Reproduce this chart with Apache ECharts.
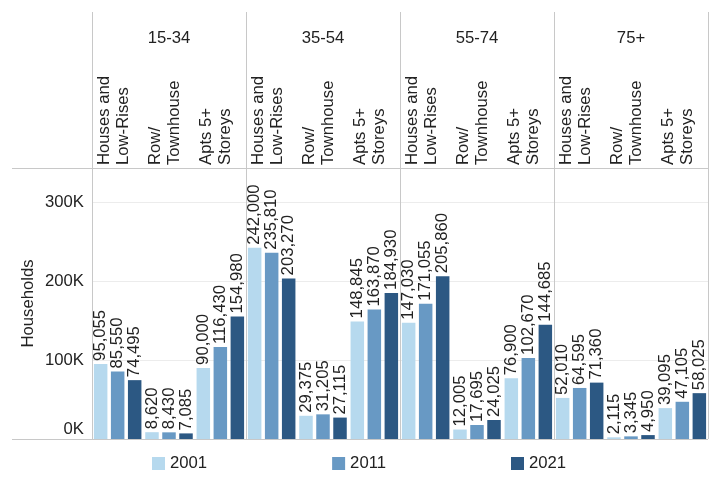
<!DOCTYPE html>
<html>
<head>
<meta charset="utf-8">
<script src="https://cdn.jsdelivr.net/npm/echarts@6/dist/echarts.min.js"></script>
<style>
html,body{margin:0;padding:0;background:#fff;}
#chart{width:720px;height:480px;}
</style>
</head>
<body>
<div id="chart"></div>
<script>
const ageGroups = ['15-34', '35-54', '55-74', '75+'];
const housingTypes = ['Houses and\nLow-Rises', 'Row/\nTownhouse', 'Apts 5+\nStoreys'];
const years = ['2001', '2011', '2021'];
// order: for each age group -> Houses, Row, Apts
const values2001 = [95055, 8620, 90000, 242000, 29375, 148845, 147030, 12005, 76900, 52010, 2115, 39095];
const values2011 = [85550, 8430, 116430, 235810, 31205, 163870, 171055, 17695, 102670, 64595, 3345, 47105];
const values2021 = [74495, 7085, 154980, 203270, 27115, 184930, 205860, 24025, 144685, 71360, 4950, 58025];
const yTicks = [0, 100000, 200000, 300000];

const colors = ['#b6d9ee', '#6899c4', '#2c5883'];
const subCategories = [];
ageGroups.forEach(() => housingTypes.forEach(t => subCategories.push(t)));
const seriesValues = [values2001, values2011, values2021];

const chart = echarts.init(document.getElementById('chart'), null, {renderer: 'canvas'});
const font = '"Liberation Sans", Arial, sans-serif';
const fs = 16.7;
const lineColor = '#c8c8c8';

chart.setOption({
  backgroundColor: '#ffffff',
  animation: false,
  textStyle: {fontFamily: font},
  grid: {left: 92, right: 12, top: 168, bottom: 41, containLabel: false},
  legend: {
    data: years,
    left: 147,
    top: 450,
    itemWidth: 13,
    itemHeight: 13,
    itemGap: 125,
    icon: 'rect',
    textStyle: {fontSize: fs, color: '#222', fontFamily: font}
  },
  xAxis: [
    {
      type: 'category',
      position: 'top',
      data: subCategories,
      axisLine: {show: false},
      axisTick: {show: false},
      splitLine: {show: false},
      axisLabel: {
        interval: 0,
        rotate: 90,
        margin: 3,
        fontSize: fs,
        lineHeight: 19,
        color: '#222',
        fontFamily: font,
        formatter: v => v.split('\n').map(s => '{t|' + s + '}').join('\n') + '\n{s| }',
        rich: {
          t: {fontSize: fs, lineHeight: 19, color: '#222', fontFamily: font},
          s: {fontSize: 1, lineHeight: 8}
        }
      }
    },
    {
      type: 'category',
      position: 'top',
      data: ageGroups,
      axisLine: {show: true, lineStyle: {color: lineColor, width: 1}},
      axisTick: {show: true, interval: 0, length: 156, inside: false, lineStyle: {color: lineColor, width: 1}},
      splitLine: {show: true, interval: 0, lineStyle: {color: lineColor, width: 1}},
      axisLabel: {interval: 0, margin: 121, fontSize: fs, color: '#222', fontFamily: font}
    }
  ],
  yAxis: {
    type: 'value',
    min: 0,
    max: 343000,
    interval: 100000,
    name: 'Households',
    nameLocation: 'middle',
    nameGap: 55,
    nameMoveOverlap: false,
    nameTextStyle: {fontSize: fs, color: '#222', fontFamily: font},
    axisLine: {show: true, lineStyle: {color: lineColor}},
    axisTick: {show: false},
    splitLine: {show: true, lineStyle: {color: '#ececec'}},
    axisLabel: {
      fontSize: fs,
      color: '#222',
      margin: 8,
      fontFamily: font,
      showMaxLabel: false,
      formatter: v => {
        if (yTicks.indexOf(v) < 0) return '';
        const t = (v / 1000) + 'K';
        return v === 0 ? '{z|' + t + '}' : t;
      },
      rich: {
        z: {fontSize: fs, color: '#222', fontFamily: font, padding: [0, 0, 20, 0]}
      }
    }
  },
  graphic: [
    {type: 'line', shape: {x1: 12, y1: 168.5, x2: 92, y2: 168.5}, style: {stroke: lineColor, lineWidth: 1}, z: 100},
    {type: 'line', shape: {x1: 12, y1: 439.5, x2: 708, y2: 439.5}, style: {stroke: lineColor, lineWidth: 1}, z: 100}
  ],
  series: years.map((y, i) => ({
    name: y,
    type: 'bar',
    xAxisIndex: 0,
    data: seriesValues[i],
    barWidth: 13.5,
    barGap: '26%',
    itemStyle: {color: colors[i]},
    label: {
      show: true,
      position: 'top',
      rotate: 90,
      align: 'left',
      verticalAlign: 'middle',
      distance: 3,
      fontSize: fs,
      color: '#222',
      fontFamily: font,
      formatter: p => p.value.toLocaleString('en-US')
    },
    labelLayout: {hideOverlap: false}
  }))
});
</script>
</body>
</html>
